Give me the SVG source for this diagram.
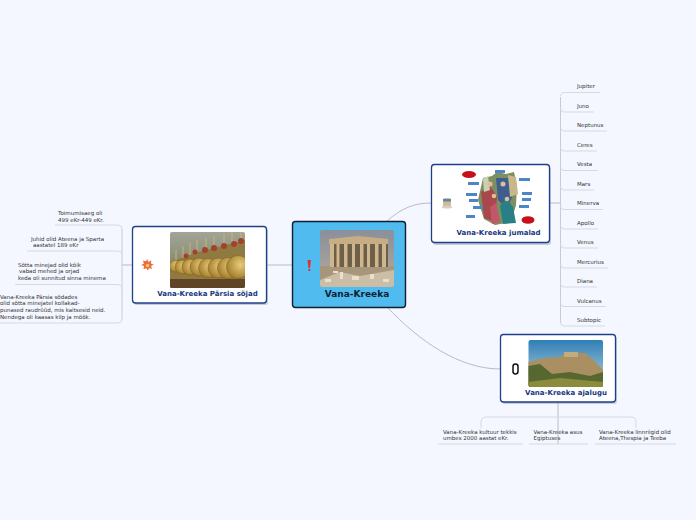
<svg xmlns="http://www.w3.org/2000/svg" width="696" height="520" viewBox="0 0 696 520">
<style>
text{font-family:"DejaVu Sans","Liberation Sans",sans-serif}
.t{font-size:5.5px;fill:#333}
.h{font-size:7px;font-weight:bold;fill:#17387f;text-anchor:middle}
.c{fill:none;stroke:#b9bbc2;stroke-width:1}
.u{fill:none;stroke:#d6d9e1;stroke-width:1}
.n{fill:#fff;stroke:#1f3f8c;stroke-width:1.300}
.s{fill:#8b93a5;opacity:.45}
.l{fill:#4c86c6}
</style>
<defs>
<linearGradient id="sky1" x1="0" y1="0" x2="0" y2="1"><stop offset="0" stop-color="#8a8f9a"/><stop offset="1" stop-color="#b4aca0"/></linearGradient>
<linearGradient id="sky2" x1="0" y1="0" x2="0" y2="1"><stop offset="0" stop-color="#a2a596"/><stop offset="1" stop-color="#6f7558"/></linearGradient>
<linearGradient id="sky3" x1="0" y1="0" x2="0" y2="1"><stop offset="0" stop-color="#2f7fb5"/><stop offset="1" stop-color="#bcd6e2"/></linearGradient>
<radialGradient id="gold" cx=".6" cy=".4" r=".7"><stop offset="0" stop-color="#e8cd7c"/><stop offset="1" stop-color="#9a7424"/></radialGradient>
<clipPath id="cp1"><rect x="320" y="230" width="74" height="57" rx="2"/></clipPath>
<clipPath id="cp2"><rect x="170" y="232" width="75" height="56" rx="2"/></clipPath>
<clipPath id="cp3"><rect x="528.500" y="340" width="74.500" height="47" rx="2"/></clipPath>
</defs>
<rect width="696" height="520" fill="#f4f7ff"/>
<g id="connectors">
<path class="c" d="M266 265H292"/>
<path class="c" d="M387 221C402 208 414 203 431.500 203"/>
<path class="c" d="M387 307C420 342 460 369 500.500 369"/>
<path class="c" d="M549.500 203H560.500"/>
<path class="c" style="stroke:#c9cbd2" d="M560.500 97V322"/>
<path class="c" style="stroke:#c9cbd2" d="M122 229V319"/>
<path class="c" d="M122 265H132.500"/>
<path class="c" d="M558 402.500V444"/>
<path class="u" d="M600 92.500H564Q560.500 92.500 560.500 96M560.500 108Q560.500 112 564 112H594M560.500 127Q560.500 131 564 131H607M560.500 147Q560.500 151 564 151H597M560.500 166.500Q560.500 170.500 564 170.500H598M560.500 186Q560.500 190 564 190H594M560.500 205.500Q560.500 209.500 564 209.500H603M560.500 225Q560.500 229 564 229H598M560.500 244Q560.500 248 564 248H598M560.500 264Q560.500 268 564 268H608M560.500 283Q560.500 287 564 287H597M560.500 302.500Q560.500 306.500 564 306.500H606M560.500 322Q560.500 326 564 326H605"/>
<path class="u" d="M55 225H118Q122 225 122 229M27 251H118Q122 251 122 255M15 284.500H118Q122 284.500 122 288.500M0 323H118Q122 323 122 319"/>
<path class="u" d="M481 428V422Q481 417 486 417H631Q636 417 636 422V428"/>
<path class="u" d="M438 444H523M529 444H588M595 444H676"/>
</g>
<g id="central">
<rect x="292.500" y="221.500" width="113" height="86" rx="3" fill="#4fbbee" stroke="#10202c" stroke-width="1.400"/>
<rect x="320" y="230" width="74" height="57" rx="2" fill="url(#sky1)"/>
<g clip-path="url(#cp1)">
<rect x="320" y="266" width="74" height="21" fill="#a8967a"/>
<path d="M320 280L340 272L360 276L394 270V287H320Z" fill="#cbbda6"/>
<path d="M329 239L358 236L388 239V244H329Z" fill="#c7ad82"/>
<rect x="330" y="244" width="58" height="23" fill="#6d5f4a"/>
<g fill="#cfb68c"><rect x="330" y="244" width="4" height="23"/><rect x="336.500" y="244" width="3" height="23"/><rect x="344" y="244" width="3.500" height="23"/><rect x="352" y="244" width="3" height="23"/><rect x="360" y="244" width="3.500" height="23"/><rect x="367" y="244" width="3" height="23"/><rect x="375" y="244" width="3.500" height="23"/><rect x="382" y="244" width="4" height="23"/></g>
<g fill="#e9dfcd"><rect x="325" y="279" width="6" height="3"/><rect x="340" y="272" width="3" height="7"/><rect x="352" y="276" width="7" height="4"/><rect x="370" y="274" width="4" height="5"/><rect x="383" y="279" width="6" height="3"/><rect x="333" y="271" width="5" height="2"/></g>
</g>
<path d="M307.500 260H311L310 268H308.500Z" fill="#d8323c"/><rect x="308.300" y="269" width="2" height="2" fill="#d8323c"/>
<text x="357" y="297" font-size="9" font-weight="bold" fill="#0f1f33" text-anchor="middle">Vana-Kreeka</text>
</g>
<g id="jumalad">
<rect class="s" x="433" y="167" width="118" height="78" rx="3"/>
<rect class="n" x="431.500" y="164.500" width="118" height="78" rx="3"/>
<ellipse cx="469" cy="174.500" rx="7" ry="3.500" fill="#c8101a"/>
<ellipse cx="528" cy="220" rx="6.500" ry="3.800" fill="#c8101a"/>
<path d="M483 178L492 176L497 172L506 174L514 172L517 186L516 205L511 222L495 225L484 219L478 200Z" fill="#7d8f62"/>
<path d="M481 192L490 186L497 196L495 222L484 218Z" fill="#a9484c"/>
<path d="M496 178L508 178L512 198L506 208L498 200Z" fill="#3d5f8f"/>
<path d="M500 206L506 198L513 207L516 223L503 224Z" fill="#2a7f84"/>
<path d="M508 175L516 177L518 194L510 197Z" fill="#c7b88a"/>
<path d="M490 207L496 203L500 222L492 224Z" fill="#c4566a"/>
<path d="M483 179L488 176L490 190L484 192Z" fill="#c9d1b4"/>
<circle cx="490" cy="184" r="2.500" fill="#e3bd98"/><circle cx="503" cy="184" r="2.500" fill="#e3bd98"/><circle cx="494" cy="196" r="2.300" fill="#e3bd98"/><circle cx="507" cy="199" r="2.300" fill="#e3bd98"/>
<rect class="l" x="495" y="170" width="10" height="3"/><rect class="l" x="519" y="178" width="11" height="3"/><rect class="l" x="468" y="182" width="11" height="3"/><rect class="l" x="522" y="192" width="10" height="3"/><rect class="l" x="466" y="193" width="11" height="3"/><rect class="l" x="522" y="198" width="9" height="3"/><rect class="l" x="469" y="199" width="9" height="3"/><rect class="l" x="519" y="205" width="10" height="3"/><rect class="l" x="473" y="206" width="10" height="3"/><rect class="l" x="466" y="215" width="9" height="3"/>
<rect x="443" y="198" width="8" height="9" rx="2" fill="#d9b98a"/><rect x="443" y="199" width="8" height="2.500" fill="#5b87b5"/><ellipse cx="447" cy="207" rx="5" ry="1.500" fill="#cfcfcf"/>
<text class="h" x="498.500" y="235">Vana-Kreeka jumalad</text>
</g>
<g id="parsia">
<rect class="s" x="134" y="228" width="134" height="77" rx="3"/>
<rect class="n" x="132.500" y="226.500" width="134" height="76.500" rx="3"/>
<rect x="170" y="232" width="75" height="56" rx="2" fill="url(#sky2)"/>
<g clip-path="url(#cp2)">
<path d="M170 262L195 253L245 240V288H170Z" fill="#8f7a42"/>
<g stroke="#c9b56d" stroke-width="1"><path d="M176 262V250M183 258V246M190 255V243M197 252V240M206 250V238M214 248V236M224 246V234M232 244V232M241 240V232"/></g>
<g fill="#a5402c"><circle cx="186" cy="256" r="2.500"/><circle cx="195" cy="252" r="2.500"/><circle cx="205" cy="250" r="3"/><circle cx="214" cy="248" r="3"/><circle cx="224" cy="246" r="3"/><circle cx="234" cy="244" r="3"/><circle cx="241" cy="241" r="3"/></g>
<rect x="170" y="279" width="75" height="9" fill="#5f4526"/>
<g fill="url(#gold)" stroke="#7a5c1a" stroke-width=".5"><circle cx="175" cy="266" r="6"/><circle cx="182" cy="267" r="7"/><circle cx="190" cy="267" r="8"/><circle cx="199" cy="267" r="9"/><circle cx="208" cy="268" r="9.500"/><circle cx="218" cy="268" r="10"/><circle cx="228" cy="268" r="10.500"/><circle cx="238" cy="267" r="11.500"/></g>
</g>
<path d="M147 259l1.500 3 2.800-1.800-.5 3.300 3 1-2.800 1.500 1.200 2.800-3.200-.6-1.200 2.300-1.500-2.300-2.800 1 .5-3.300-2.800-1 2.800-1.500-1.200-2.800 3.300.6z" fill="#ee6a45"/><circle cx="147.500" cy="265.500" r="1.800" fill="#f7d343"/>
<text class="h" x="207.500" y="296">Vana-Kreeka Pärsia sõjad</text>
</g>
<g id="ajalugu">
<rect class="s" x="502" y="336" width="115" height="68" rx="3"/>
<rect class="n" x="500.500" y="334.500" width="115" height="67.500" rx="3"/>
<rect x="528.500" y="340" width="74.500" height="47" rx="2" fill="url(#sky3)"/>
<g clip-path="url(#cp3)">
<path d="M528 362L545 358L560 357L566 353L585 353L596 362L603 370V387H528Z" fill="#a98f62"/>
<path d="M528 366L540 364L552 374L570 372L590 376L603 372V387H528Z" fill="#56682f"/>
<path d="M528 382L560 378L603 382V387H528Z" fill="#8c8a3c"/>
<rect x="564" y="352" width="14" height="5" fill="#c4ab7d"/>
</g>
<rect x="513" y="364" width="5" height="10" rx="2.400" fill="none" stroke="#111" stroke-width="1.500"/>
<text class="h" x="566" y="395">Vana-Kreeka ajalugu</text>
</g>
<g id="topic-jupiter"><text class="t" x="577" y="88">Jupiter</text></g>
<g id="topic-juno"><text class="t" x="577" y="108">Juno</text></g>
<g id="topic-neptunus"><text class="t" x="577" y="127">Neptunus</text></g>
<g id="topic-ceres"><text class="t" x="577" y="147">Ceres</text></g>
<g id="topic-vesta"><text class="t" x="577" y="166">Vesta</text></g>
<g id="topic-mars"><text class="t" x="577" y="186">Mars</text></g>
<g id="topic-minerva"><text class="t" x="577" y="205">Minerva</text></g>
<g id="topic-apollo"><text class="t" x="577" y="225">Apollo</text></g>
<g id="topic-venus"><text class="t" x="577" y="244">Venus</text></g>
<g id="topic-mercurius"><text class="t" x="577" y="264">Mercurius</text></g>
<g id="topic-diana"><text class="t" x="577" y="283">Diana</text></g>
<g id="topic-vulcanus"><text class="t" x="577" y="303">Vulcanus</text></g>
<g id="topic-subtopic"><text class="t" x="577" y="322">Subtopic</text></g>
<g id="left-1"><text class="t"><tspan x="58" y="215">Toimumisaeg oli</tspan><tspan x="58" y="221.500">499 eKr-449 eKr.</tspan></text></g>
<g id="left-2"><text class="t"><tspan x="31" y="241">Juhid olid Ateena ja Sparta</tspan><tspan x="33" y="247">aastatel 189 eKr</tspan></text></g>
<g id="left-3"><text class="t"><tspan x="18" y="267">Sõtta minejad olid kõik</tspan><tspan x="19" y="273">vabad mehed ja orjad</tspan><tspan x="18" y="280">keda oli sunnitud sinna minema</tspan></text></g>
<g id="left-4"><text class="t"><tspan x="0" y="299">Vana-Kreeka Pärsia sõdades</tspan><tspan x="0" y="305">olid sõtta minejatel kollakad-</tspan><tspan x="0" y="312">punased raudrüüd, mis kaitsesid neid.</tspan><tspan x="0" y="319">Nendega oli kaasas kilp ja mõõk.</tspan></text></g>
<g id="bottom-1"><text class="t"><tspan x="443" y="434">Vana-Kreeka kultuur tekkis</tspan><tspan x="443" y="440">umbes 2000 aastat eKr.</tspan></text></g>
<g id="bottom-2"><text class="t"><tspan x="533.500" y="434">Vana-Kreeka asus</tspan><tspan x="533.500" y="440">Egiptuses</tspan></text></g>
<g id="bottom-3"><text class="t"><tspan x="599" y="434">Vana-Kreeka linnriigid olid</tspan><tspan x="599" y="440">Ateena,Thespia ja Teeba</tspan></text></g>
</svg>
